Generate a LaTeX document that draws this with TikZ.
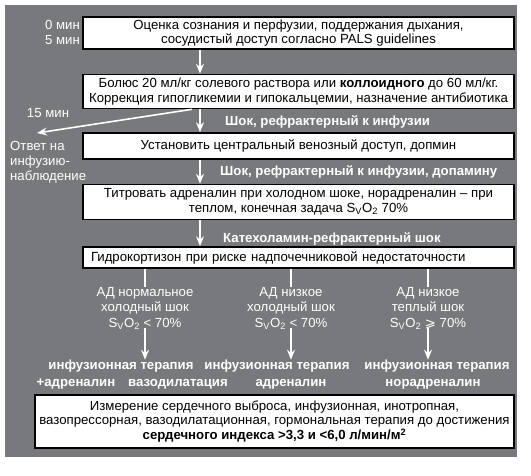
\documentclass[tikz,border=0pt]{standalone}
\usepackage{fontspec}
\setmainfont{Liberation Sans}
\newfontfamily\dejavu{DejaVu Sans}
\usetikzlibrary{arrows.meta,calc}
\definecolor{bggrey}{RGB}{120,121,124}
\newcommand{\svo}{S\textsubscript{V}O\textsubscript{2}}
\begin{document}
\begin{tikzpicture}[x=1pt,y=-1pt,
  box/.style={draw=black,line width=1.6pt,fill=white,inner sep=0pt,align=center,
    font=\fontsize{13.2}{14.8}\selectfont},
  wlab/.style={text=white,font=\fontsize{13.2}{15}\selectfont\bfseries,inner sep=0pt},
  wtxt/.style={text=white,font=\fontsize{13.2}{15.5}\selectfont,inner sep=0pt,align=center},
  warr/.style={draw=white,line width=1.6pt,-{Stealth[length=10pt,width=8pt,inset=3.5pt]}},
  wline/.style={draw=white,line width=1.6pt}]
\useasboundingbox (0,0) rectangle (531,476);
\fill[bggrey] (5,5) rectangle (517,457);

% main boxes
\node[box,minimum width=431,minimum height=32] (b1) at (298.5,33)
  {Оценка сознания и перфузии, поддержания дыхания,\\сосудистый доступ согласно PALS guidelines};
\node[box,minimum width=431,minimum height=34] (b2) at (298.5,91.5)
  {Болюс 20 мл/кг солевого раствора или \textbf{коллоидного} до 60 мл/кг.\\Коррекция гипогликемии и гипокальцемии, назначение антибиотика};
\node[box,minimum width=431,minimum height=26] (b3) at (298.5,146)
  {Установить центральный венозный доступ, допмин};
\node[box,minimum width=431,minimum height=35] (b4) at (298.5,202)
  {Титровать адреналин при холодном шоке, норадреналин – при\\теплом, конечная задача \svo\ 70\%};
\node[box,minimum width=431,minimum height=21,text width=415,align=left,inner xsep=8] (b5) at (298.5,257.5)
  {Гидрокортизон при риске надпочечниковой недостаточности};
\node[box,line width=2.4pt,minimum width=479,minimum height=53] (b6) at (274.5,421.5)
  {Измерение сердечного выброса, инфузионная, инотропная,\\вазопрессорная, вазодилатационная, гормональная терапия до достижения\\\textbf{сердечного индекса >3,3 и <6,0 л/мин/м\textsuperscript{2}}};

% time labels
\node[wtxt,anchor=east] (t0) at (80,25) {0 мин};
\node[wtxt,anchor=east] (t5) at (80,40) {5 мин};
\node[wtxt] (t15) at (48,113) {15 мин};
\node[wtxt,align=left,anchor=north west,font=\fontsize{13.2}{15}\selectfont] (resp) at (10,141)
  {Ответ на\\инфузию-\\наблюдение};

% main arrows
\coordinate (mx) at (200,0);
\coordinate (side) at (192,0);
\coordinate (respend) at (37,133);
\draw[warr] (b1.south -| mx) -- (b2.north -| mx);
\draw[warr] (b2.south -| mx) -- (b3.north -| mx);
\draw[warr] (b2.south -| side) -- (respend);
\draw[warr] (b3.south -| mx) -- (b4.north -| mx);
\draw[warr] (b4.south -| mx) -- (b5.north -| mx);

\node[wlab,anchor=west] (l1) at (225,122) {Шок, рефрактерный к инфузии};
\node[wlab,anchor=west] (l2) at (220,172) {Шок, рефрактерный к инфузии, допамину};
\node[wlab,anchor=west] (l3) at (223,239) {Катехоламин-рефрактерный шок};

% branches
\node[wtxt,anchor=north] (g1) at (145,287) {АД нормальное\\холодный шок\\\svo\ < 70\%};
\node[wtxt,anchor=north] (g2) at (291,287) {АД низкое\\холодный шок\\\svo\ < 70\%};
\node[wtxt,anchor=north] (g3) at (428,287) {АД низкое\\теплый шок\\\svo\ {\dejavu ⩾} 70\%};
\draw[wline] (b5.south -| g1) -- (g1.north);
\draw[wline] (b5.south -| g2) -- (g2.north);
\draw[wline] (b5.south -| g3) -- (g3.north);

\node[wlab] (th1) at (121,366) {инфузионная терапия};
\node[wlab] (th2) at (277,366) {инфузионная терапия};
\node[wlab] (th3) at (437,366) {инфузионная терапия};
\draw[warr] ([yshift=2pt]g1.south) -- (th1.north -| g1);
\draw[warr] ([yshift=2pt]g2.south) -- (th2.north -| g2);
\draw[warr] ([yshift=2pt]g3.south) -- (th3.north -| g3);

\node[wlab] (d1) at (76,384) {+адреналин};
\node[wlab] (d2) at (178,384) {вазодилатация};
\node[wlab] (d3) at (291,384) {адреналин};
\node[wlab] (d4) at (433,384) {норадреналин};
\end{tikzpicture}
\end{document}
